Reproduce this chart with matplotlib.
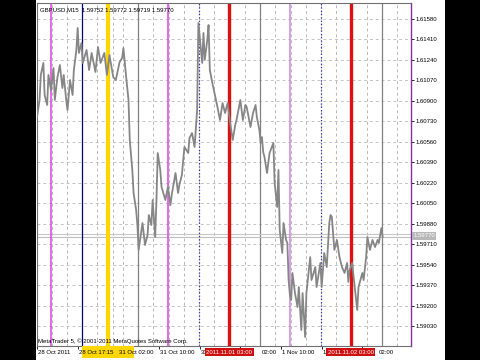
import numpy as np
import matplotlib
matplotlib.use("Agg")
import matplotlib.pyplot as plt
from matplotlib.patches import Rectangle
import matplotlib.transforms as mtransforms

plt.rcParams['font.family'] = ['Liberation Sans', 'DejaVu Sans']

# GBPUSD M15 close path (bar index, price)
bars = [0, 2, 3, 5, 6, 8, 9, 11, 13, 14, 16, 18, 20, 21, 23, 24, 26, 28, 29, 31,
        32, 33, 35, 36, 39, 41, 43, 46, 48, 50, 53, 55, 57, 60, 62, 65, 67, 68, 70, 72,
        73, 75, 76, 78, 79, 80, 82, 83, 85, 87, 88, 90, 91, 93, 94, 95, 97, 98, 101, 103,
        105, 106, 109, 111, 112, 114, 116, 119, 120, 122, 124, 126, 127, 129, 130, 131, 132, 134, 135, 136,
        138, 140, 142, 144, 146, 148, 150, 152, 154, 156, 157, 160, 162, 164, 165, 168, 170, 172, 173, 175,
        176, 177, 178, 179, 181, 183, 186, 187, 189, 190, 191, 193, 194, 196, 197, 198, 199, 200, 201, 203,
        205, 206, 208, 209, 211, 212, 215, 216, 219, 220, 223, 224, 226, 228, 230, 231, 232, 233, 234, 236,
        238, 240, 242, 244, 245, 246, 248, 250, 252, 253, 256, 257, 259, 260, 262, 264, 266, 268, 269, 271,
        272]
prices = [1.60766, 1.60907, 1.61115, 1.61215, 1.60949, 1.60866, 1.61115, 1.60990, 1.61173, 1.60907,
          1.61090, 1.61198, 1.61007, 1.61115, 1.60907, 1.60824, 1.61073, 1.60949, 1.61156, 1.61323,
          1.61505, 1.61298, 1.61381, 1.61215, 1.61323, 1.61156, 1.61298, 1.61140, 1.61347, 1.61215,
          1.61298, 1.61115, 1.61281, 1.61098, 1.61073, 1.61223, 1.61256, 1.61339, 1.61115, 1.60907,
          1.60575, 1.60326, 1.60135, 1.59994, 1.59869, 1.59662, 1.59811, 1.59886, 1.59703, 1.59786,
          1.59952, 1.59869, 1.60077, 1.59770, 1.60077, 1.60467, 1.60326, 1.60185, 1.60077, 1.60185,
          1.60035, 1.60118, 1.60301, 1.60135, 1.60201, 1.60284, 1.60517, 1.60467, 1.60592, 1.60633,
          1.60517, 1.60824, 1.61547, 1.61323, 1.61215, 1.61464, 1.61240, 1.61406, 1.61530, 1.61156,
          1.61048, 1.60949, 1.60849, 1.60741, 1.60882, 1.60799, 1.60882, 1.60716, 1.60575, 1.60700,
          1.60741, 1.60907, 1.60741, 1.60866, 1.60849, 1.60683, 1.60799, 1.60866, 1.60766, 1.60658,
          1.60550, 1.60600, 1.60475, 1.60434, 1.60301, 1.60467, 1.60550, 1.60218, 1.60019, 1.60326,
          1.59828, 1.59637, 1.59886, 1.59745, 1.59720, 1.59412, 1.59288, 1.59246, 1.59471, 1.59304,
          1.59188, 1.59354, 1.58997, 1.59304, 1.58939, 1.59304, 1.59603, 1.59412, 1.59520, 1.59354,
          1.59554, 1.59354, 1.59637, 1.59520, 1.59886, 1.59952, 1.59936, 1.59803, 1.59662, 1.59745,
          1.59603, 1.59520, 1.59471, 1.59554, 1.59396, 1.59495, 1.59554, 1.59354, 1.59163, 1.59354,
          1.59471, 1.59412, 1.59603, 1.59770, 1.59662, 1.59745, 1.59686, 1.59745, 1.59720, 1.59844,
          1.59770]

last_price = 1.59770
header = "GBPUSD,M15  1.59752 1.59772 1.59719 1.59770"
copyright_text = "MetaTrader 5, \u00a9 2001-2011 MetaQuotes Software Corp."

price_ticks = [1.61580, 1.61410, 1.61240, 1.61070, 1.60900, 1.60730, 1.60560, 1.60390,
               1.60220, 1.60050, 1.59880, 1.59710, 1.59540, 1.59370, 1.59200, 1.59030]

time_tick_bars = [0, 32, 64, 96, 128, 160, 192, 224, 256]
# visible parts of the time labels (the rest is hidden under the line markers)
time_tick_labels = ["28 Oct 2011", "28 Oct 17:15", "31 Oct 02:00", "31 Oct 10:00", "31",
                    "02:00", "1 Nov 10:00", "1", "02:00"]
label_shift = [0.8, 0.8, 0.8, 0.8, 0.8, 17, 0.8, 0.8, 13]

# vertical line objects on the chart
vline_bars = [11, 35.4, 55.9, 103.1, 127.5, 151.2, 199.1, 223.4, 247.0]
vline_colors = ['#E040E0', '#000080', '#FFD700', '#E040E0', '#3030A0', '#DD1111', '#CC88DD', '#3030A0', '#DD1111']
vline_widths = [1.1, 0.9, 3.0, 1.1, 0.9, 2.4, 1.1, 0.9, 2.4]
vline_styles = ['-', '-', '-', '-', ':', '-', '-', ':', '-']

separator_bars = [79.5, 175.5, 271.5]
red_labels = [(151.2, "2011.11.01 03:00"), (247.0, "2011.11.02 03:00")]

fig = plt.figure(figsize=(4.8, 3.6), dpi=100)
fig.patch.set_facecolor('black')
fig.patches.append(Rectangle((36 / 480, 0), (445 - 36) / 480, 1, transform=fig.transFigure,
                             facecolor='white', edgecolor='none', zorder=-10))

ax = fig.add_axes([37 / 480, 14 / 360, 374 / 480, 343 / 360])
ax.set_facecolor('white')
ax.set_xlim(0, 294.3)
ax.set_ylim(1.588643, 1.617129)

# dashed grid
for p in price_ticks:
    ax.axhline(p, color='#C4C4C4', lw=0.7, ls=(0, (3, 3)), zorder=1)
grid_bars = list(np.arange(11.5, 60, 12)) + list(np.arange(67.5, 290, 12))
for g in grid_bars:
    ax.axvline(g, color='#B8B8B8', lw=0.7, ls=(0, (3, 3)), zorder=1)
for s in separator_bars:
    ax.axvline(s, color='#808080', lw=0.9, zorder=1.5)

for b, c, w, s in zip(vline_bars, vline_colors, vline_widths, vline_styles):
    ax.axvline(b, color=c, lw=w, ls=s, zorder=2)

# bid / ask lines
ax.axhline(last_price, color='#C0C0C0', lw=0.8, zorder=1.8)
ax.axhline(last_price + 0.00024, color='#C8C8C8', lw=0.8, zorder=1.8)

ax.plot(bars, prices, color='#868686', lw=1.3, zorder=3)

# frame
for side in ['left', 'top', 'bottom']:
    ax.spines[side].set_color('#707070')
    ax.spines[side].set_linewidth(0.8)
ax.spines['right'].set_color('#8030A0')
ax.spines['right'].set_linewidth(1.0)

# right price scale
ax.yaxis.tick_right()
ax.set_yticks(price_ticks)
ax.set_yticklabels(["%.5f" % p for p in price_ticks])
ax.tick_params(axis='y', labelsize=4.3, length=2, width=0.6, pad=1.5, colors='black')

# bottom time scale
ax.set_xticks(time_tick_bars)
ax.set_xticklabels([])
ax.tick_params(axis='x', length=2, width=0.6, color='black')
xtr = ax.get_xaxis_transform()
ax.add_patch(Rectangle((35.4, -0.034), 40.9, 0.034, transform=xtr, facecolor='#FFD700',
                       edgecolor='none', clip_on=False, zorder=3))
for b, lab, sh in zip(time_tick_bars, time_tick_labels, label_shift):
    ax.text(b + sh, -0.018, lab, transform=xtr, fontsize=4.3, ha='left', va='center',
            clip_on=False, zorder=4)
for b, lab in red_labels:
    ax.text(b, -0.018, lab, transform=xtr, fontsize=4.3, ha='center', va='center', color='white',
            clip_on=False, zorder=5,
            bbox=dict(boxstyle='square,pad=0.25', facecolor='#D01010', edgecolor='none'))

# current price marker
ytr = mtransforms.blended_transform_factory(ax.transAxes, ax.transData)
ax.text(1.006, last_price + 0.00008, "%.5f" % last_price, transform=ytr, fontsize=4.3, ha='left',
        va='center', color='white', clip_on=False, zorder=5,
        bbox=dict(boxstyle='square,pad=0.25', facecolor='#B8B8B8', edgecolor='none'))

ax.text(0.008, 0.988, header, transform=ax.transAxes, fontsize=4.3, ha='left', va='top', zorder=6)
ax.text(0.003, 0.015, copyright_text, transform=ax.transAxes, fontsize=4.3, ha='left',
        va='center', zorder=6)

fig.savefig("out.png", dpi=100, facecolor=fig.get_facecolor())
